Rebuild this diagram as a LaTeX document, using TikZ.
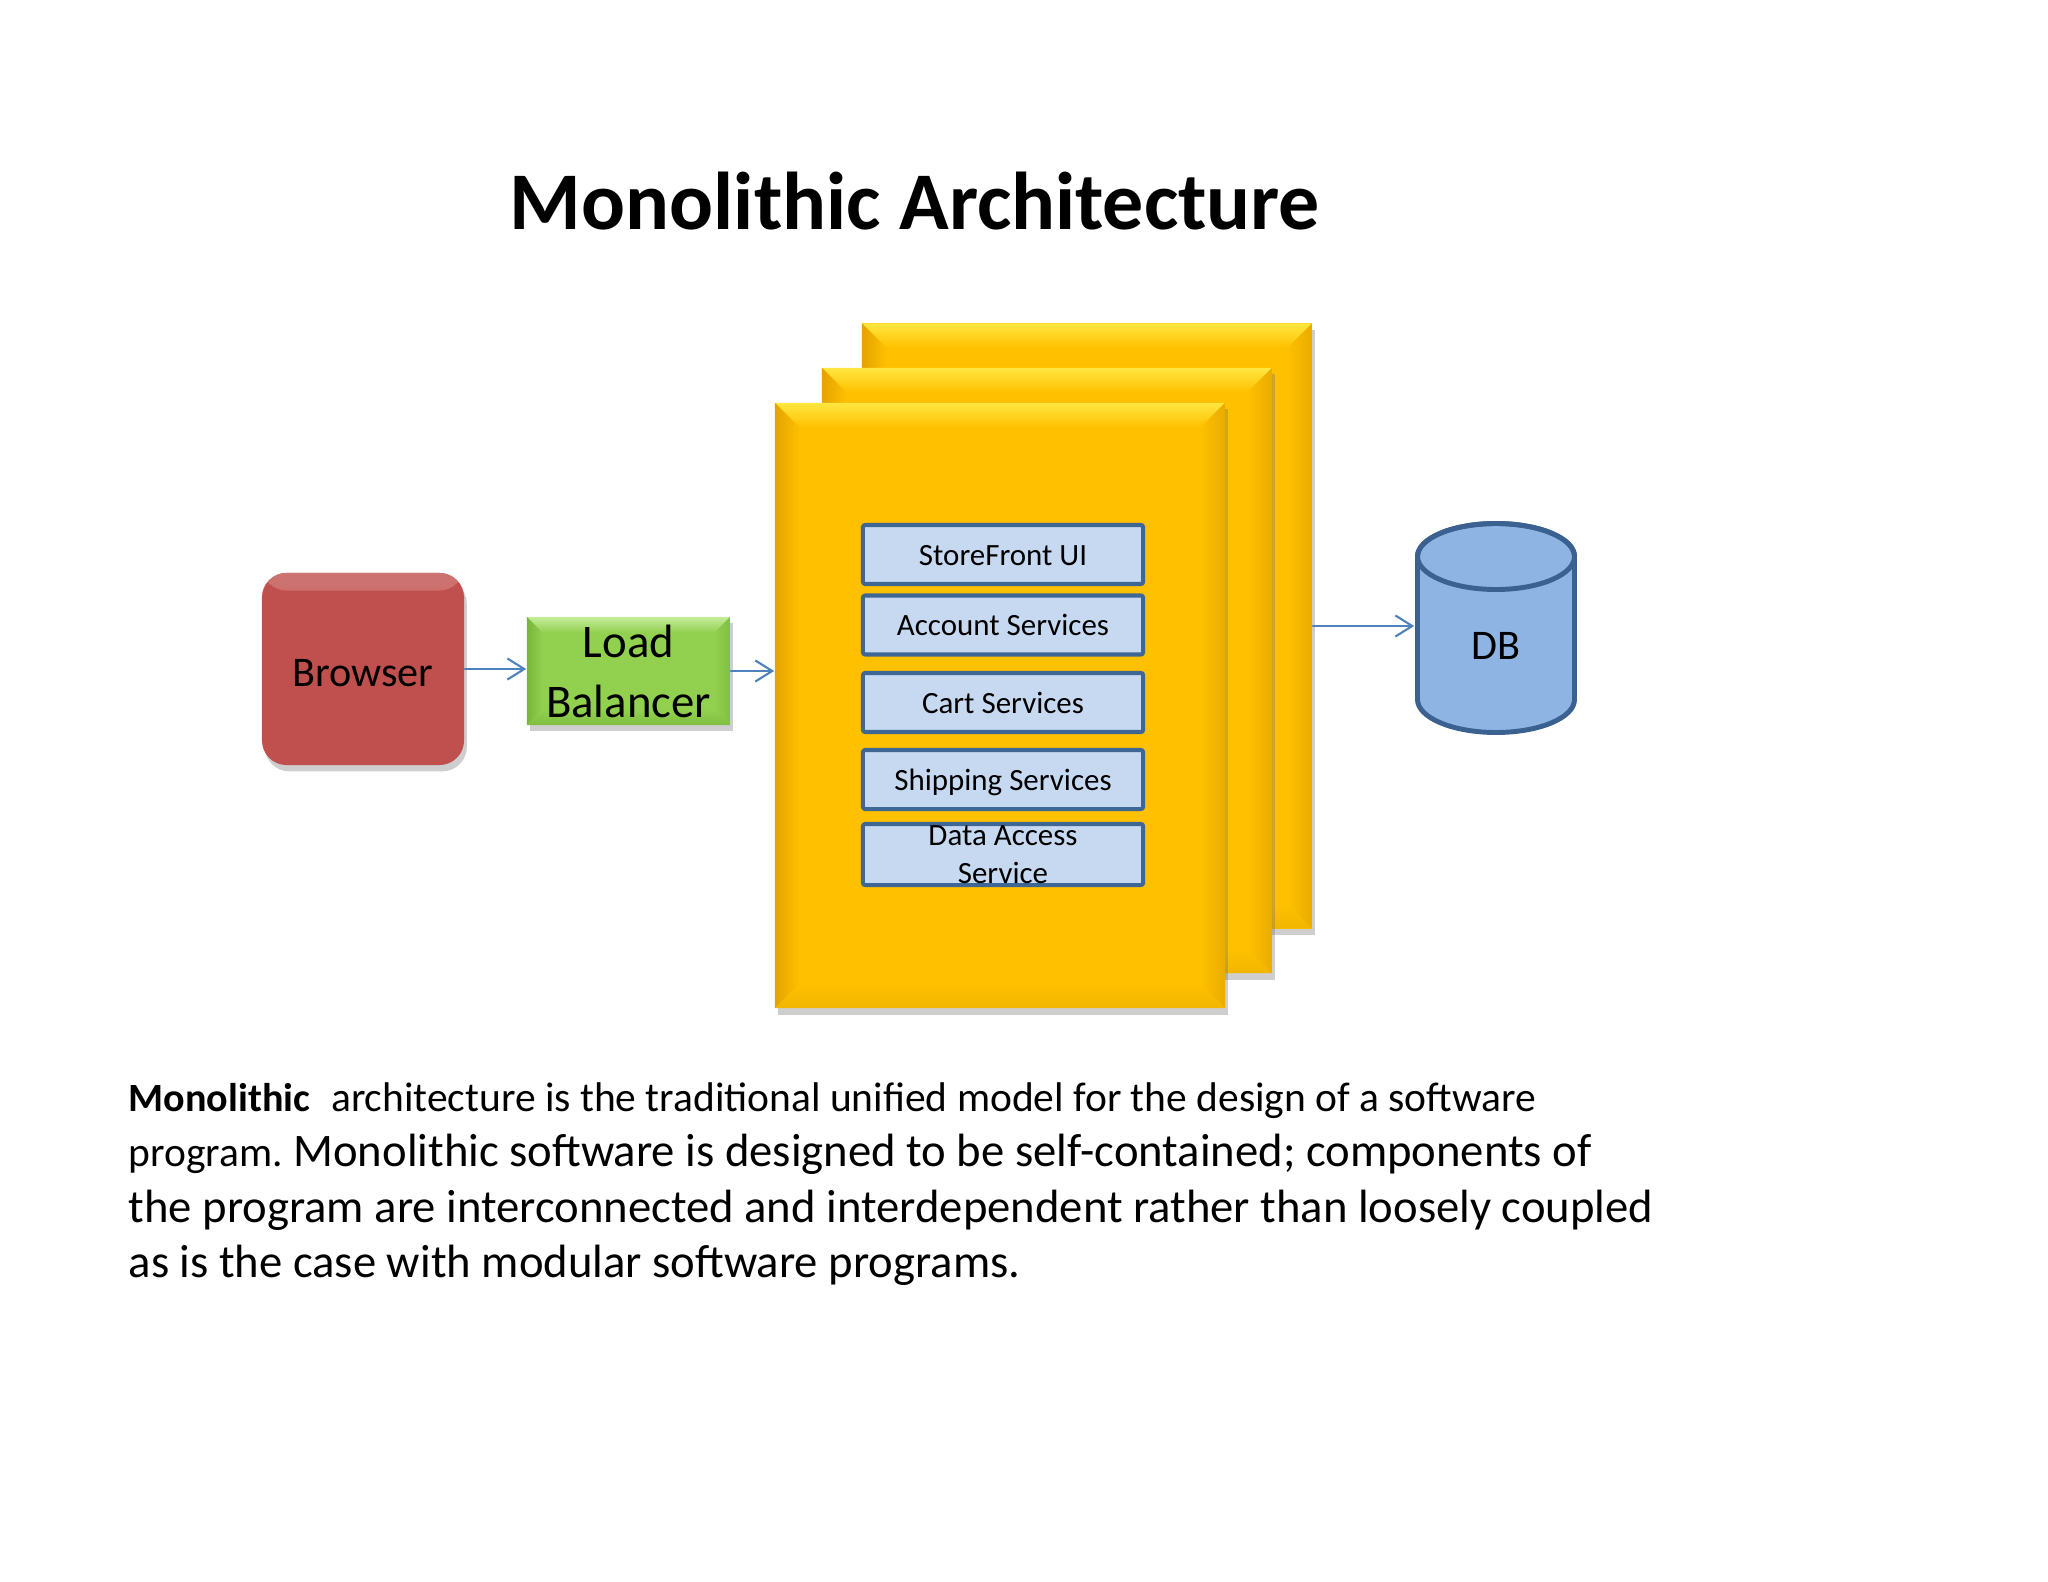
\documentclass[tikz,border=0pt]{standalone}
\usepackage{fontspec}
\setmainfont{Carlito}
\usetikzlibrary{positioning,arrows.meta,shadows}

\definecolor{gold}{HTML}{FFC000}
\definecolor{goldtop}{HTML}{FFE640}
\definecolor{goldleft}{HTML}{E4A300}
\definecolor{goldright}{HTML}{E9AC00}
\definecolor{goldbot}{HTML}{F2B600}
\definecolor{lbgreen}{HTML}{92D050}
\definecolor{lbtop}{HTML}{C5EC9A}
\definecolor{lbleft}{HTML}{78B53A}
\definecolor{lbright}{HTML}{80C040}
\definecolor{lbbot}{HTML}{7FBE40}
\definecolor{brred}{HTML}{C0504D}
\definecolor{svcfill}{HTML}{C6D9F1}
\definecolor{svcline}{HTML}{3F6796}
\definecolor{dbfill}{HTML}{8EB4E3}
\definecolor{dbline}{HTML}{3B6191}
\definecolor{flowblue}{HTML}{4F81BD}

\newcommand\smalltxt{\fontsize{11.8}{14}\selectfont}
\newcommand\bigtxt{\fontsize{13.27}{16}\selectfont}

\begin{document}
\begin{tikzpicture}[x=0.01cm,y=-0.01cm,line cap=round,line join=round,
  softshadow/.style={drop shadow={shadow xshift=0.8pt,shadow yshift=-1.8pt,fill=black!55,opacity=.35}},
  bevelled/.style n args={6}{fill=#1,path picture={
    \coordinate (bnw) at (path picture bounding box.north west);
    \coordinate (bne) at (path picture bounding box.north east);
    \coordinate (bsw) at (path picture bounding box.south west);
    \coordinate (bse) at (path picture bounding box.south east);
    \shade[top color=#2,bottom color=#1] (bnw) -- (bne) -- ([shift={(-#6,-#6)}]bne) -- ([shift={(#6,-#6)}]bnw) -- cycle;
    \shade[left color=#3,right color=#1] (bnw) -- ([shift={(#6,-#6)}]bnw) -- ([shift={(#6,#6)}]bsw) -- (bsw) -- cycle;
    \shade[left color=#1,right color=#4] (bne) -- ([shift={(-#6,-#6)}]bne) -- ([shift={(-#6,#6)}]bse) -- (bse) -- cycle;
    \shade[top color=#1,bottom color=#5] (bsw) -- ([shift={(#6,#6)}]bsw) -- ([shift={(-#6,#6)}]bse) -- (bse) -- cycle;}},
  monobox/.style={rectangle,minimum width=4.5cm,minimum height=6.05cm,inner sep=0pt,
    softshadow,bevelled={gold}{goldtop}{goldleft}{goldright}{goldbot}{7pt}},
  browserbox/.style={rectangle,rounded corners=7pt,fill=brred,minimum width=2.02cm,
    minimum height=1.92cm,inner sep=0pt,softshadow,font=\fontsize{12}{14}\selectfont,
    text height=9.9pt,text depth=0pt,
    path picture={\shade[top color=brred!80!white,bottom color=brred]
      (path picture bounding box.north west) rectangle ([yshift=-5pt]path picture bounding box.north east);}},
  lbbox/.style={rectangle,minimum width=2.03cm,minimum height=1.08cm,inner sep=0pt,
    softshadow,bevelled={lbgreen}{lbtop}{lbleft}{lbright}{lbbot}{4.5pt},
    align=center,font=\fontsize{13.3}{17.1}\selectfont},
  svcbase/.style={rectangle,draw=svcline,line width=1.15pt,fill=svcfill,rounded corners=0.6pt,
    minimum width=2.8cm,minimum height=0.59cm,inner sep=0pt,font=\fontsize{8.8}{10.8}\selectfont},
  svc/.style={svcbase,text height=8.2pt,text depth=2pt},
  flow/.style={draw=flowblue,line width=0.6pt,-{Straight Barb[length=4.8pt,width=6pt]}},
  bodyline/.style={anchor=base west,inner sep=0pt}]
  \useasboundingbox (0,0) rectangle (2048,1582);
  \fill[white] (0,0) rectangle (2048,1582);

  \node[anchor=base,font=\fontsize{23.3}{27}\selectfont\bfseries] (title) at (915,230) {Monolithic Architecture};

  % the three copies of the application
  \node[monobox] (back) at (1087,626) {};
  \node[monobox] (mid) at (1047,670.5) {};
  \node[monobox] (front) at (1000,705.5) {};

  \node[svc] (storefront) at (1003,554.5) {StoreFront UI};
  \node[svc] (account) at (1003,625) {Account Services};
  \node[svc] (cart) at (1003,702.5) {Cart Services};
  \node[svc] (shipping) at (1003,779.5) {Shipping Services};
  \node[svcbase,minimum height=0.61cm,inner ysep=0pt,align=center] (dataaccess) at (1003,854.5) {Data Access\\Service};

  \node[browserbox] (browser) at (363,669) {Browser};
  \node[lbbox] (lb) at (628.5,671) {Load\\Balancer};

  % database cylinder
  \filldraw[fill=dbfill,draw=dbline,line width=1.4pt] (1417.5,556.5) -- (1417.5,699.5)
    arc (180:0:78.5 and 33) -- (1574.5,556.5) arc (0:-180:78.5 and 33) -- cycle;
  \draw[dbline,line width=1.4pt] (1496,556.5) ellipse (78.5 and 33);
  \node[minimum width=1.62cm,minimum height=2.14cm,inner sep=0pt] (db) at (1496,628) {};
  \node[font=\fontsize{12}{14}\selectfont] (dblabel) at (1496,646) {DB};

  \draw[flow] (browser.east) -- (browser.east -| lb.west);
  \draw[flow] (lb.east) -- (lb.east -| front.west);
  \draw[flow] (back.east) -- (back.east -| db.west);

  \node[bodyline] (line1) at (128,1111) {{\fontsize{11.4}{14}\selectfont\bfseries Monolithic}\hspace{0.6em}\smalltxt architecture is the traditional unified model for the design of a software};
  \node[bodyline] (line2) at (128,1166) {{\smalltxt program.} \bigtxt Monolithic software is designed to be self-contained; components of};
  \node[bodyline] (line3) at (128,1222) {\bigtxt the program are interconnected and interdependent rather than loosely coupled};
  \node[bodyline] (line4) at (128,1277) {\bigtxt as is the case with modular software programs.};
\end{tikzpicture}
\end{document}
